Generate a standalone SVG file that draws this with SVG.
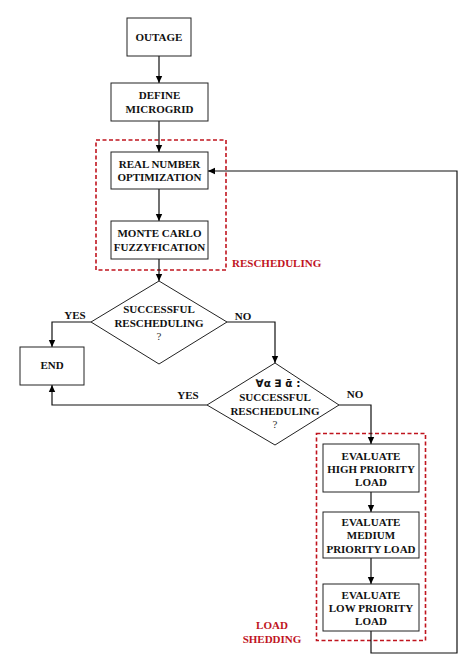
<svg xmlns="http://www.w3.org/2000/svg" width="474" height="670" viewBox="0 0 474 670">
<defs>
<marker id="ah" markerWidth="8" markerHeight="8" refX="7" refY="4" orient="auto" markerUnits="userSpaceOnUse">
<path d="M0,0.8 L7,4 L0,7.2 Z" fill="#000"/>
</marker>
<style>
.box{fill:#fff;stroke:#222;stroke-width:1}
.t{font-family:"Liberation Serif","Times New Roman",serif;font-weight:bold;font-size:11px;fill:#111;text-anchor:middle}
.q{font-family:"Liberation Serif","Times New Roman",serif;font-size:11px;fill:#333;text-anchor:middle}
.sym{font-family:"DejaVu Sans",sans-serif;font-weight:bold;font-size:10.5px;fill:#111;text-anchor:middle}
.red{font-family:"Liberation Serif","Times New Roman",serif;font-weight:bold;font-size:11px;fill:#c0141e}
.dash{fill:none;stroke:#c0141e;stroke-width:1.6;stroke-dasharray:4,2.5}
.c{fill:none;stroke:#111;stroke-width:1.2}
</style>
</defs>
<rect width="474" height="670" fill="#fff"/>

<g id="groups">
<rect class="dash" x="96" y="140" width="130" height="130"/>
<text class="red" x="232" y="267">RESCHEDULING</text>
<rect class="dash" x="316.5" y="433.5" width="109" height="207"/>
<text class="red" x="272" y="629" text-anchor="middle">LOAD</text>
<text class="red" x="272" y="643" text-anchor="middle">SHEDDING</text>
</g>

<g id="connectors">
<line class="c" x1="159" y1="56" x2="159" y2="83" marker-end="url(#ah)"/>
<line class="c" x1="159" y1="121" x2="159" y2="152" marker-end="url(#ah)"/>
<line class="c" x1="159" y1="189" x2="159" y2="221" marker-end="url(#ah)"/>
<line class="c" x1="159" y1="259" x2="159" y2="281" marker-end="url(#ah)"/>
<polyline class="c" points="91,322 52,322 52,347" marker-end="url(#ah)"/>
<polyline class="c" points="227,322 275,322 275,363" marker-end="url(#ah)"/>
<polyline class="c" points="207,405 52,405 52,385" marker-end="url(#ah)"/>
<polyline class="c" points="339,405 371,405 371,444" marker-end="url(#ah)"/>
<line class="c" x1="371" y1="492" x2="371" y2="512" marker-end="url(#ah)"/>
<line class="c" x1="371" y1="558" x2="371" y2="584" marker-end="url(#ah)"/>
<polyline class="c" points="371,631 371,653 457,653 457,171 208,171" marker-end="url(#ah)"/>
<text class="t" x="75" y="319">YES</text>
<text class="t" x="243" y="320">NO</text>
<text class="t" x="188" y="399">YES</text>
<text class="t" x="355" y="398">NO</text>
</g>

<g id="outage">
<rect class="box" x="127" y="18" width="64" height="38"/>
<text class="t" x="159" y="41">OUTAGE</text>
</g>
<g id="define-microgrid">
<rect class="box" x="111" y="83" width="97" height="38"/>
<text class="t" x="159.5" y="99">DEFINE</text>
<text class="t" x="159.5" y="112.5">MICROGRID</text>
</g>
<g id="real-number">
<rect class="box" x="111" y="152" width="97" height="37"/>
<text class="t" x="159.5" y="167.5">REAL NUMBER</text>
<text class="t" x="159.5" y="181">OPTIMIZATION</text>
</g>
<g id="monte-carlo">
<rect class="box" x="111" y="221" width="97" height="38"/>
<text class="t" x="159.5" y="236.5">MONTE CARLO</text>
<text class="t" x="159.5" y="250.5">FUZZYFICATION</text>
</g>
<g id="decision1">
<polygon class="box" points="159,281 227,322 159,364 91,322"/>
<text class="t" x="159" y="313">SUCCESSFUL</text>
<text class="t" x="159" y="326.5">RESCHEDULING</text>
<text class="q" x="159" y="340">?</text>
</g>
<g id="end">
<rect class="box" x="20" y="347" width="64" height="38"/>
<text class="t" x="52" y="369">END</text>
</g>
<g id="decision2">
<polygon class="box" points="275,363 339,405 275,445 207,405"/>
<text class="sym" x="278" y="386.5">∀α ∃ ᾱ :</text>
<text class="t" x="275" y="401">SUCCESSFUL</text>
<text class="t" x="275" y="414.5">RESCHEDULING</text>
<text class="q" x="275" y="428">?</text>
</g>
<g id="high">
<rect class="box" x="323" y="444" width="96" height="48"/>
<text class="t" x="371" y="459.5">EVALUATE</text>
<text class="t" x="371" y="472.5">HIGH PRIORITY</text>
<text class="t" x="371" y="485.5">LOAD</text>
</g>
<g id="medium">
<rect class="box" x="323" y="512" width="96" height="46"/>
<text class="t" x="371" y="526">EVALUATE</text>
<text class="t" x="371" y="539">MEDIUM</text>
<text class="t" x="371" y="552.5">PRIORITY LOAD</text>
</g>
<g id="low">
<rect class="box" x="323" y="584" width="96" height="47"/>
<text class="t" x="371" y="598.5">EVALUATE</text>
<text class="t" x="371" y="611.5">LOW PRIORITY</text>
<text class="t" x="371" y="625">LOAD</text>
</g>
</svg>
